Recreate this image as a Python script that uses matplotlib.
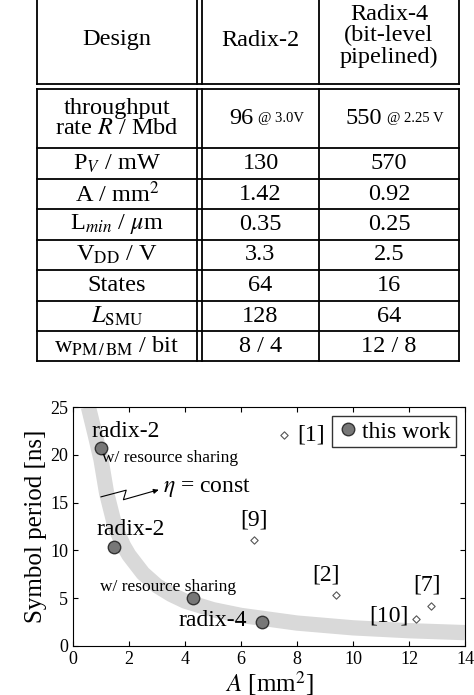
import matplotlib.pyplot as plt
from matplotlib.lines import Line2D

plt.rcParams['font.family'] = ['Liberation Serif', 'DejaVu Serif']
plt.rcParams['mathtext.fontset'] = 'stix'

# table data
headers = ["Design", "Radix-2", "Radix-4\n(bit-level\npipelined)"]
row_labels = ["throughput\nrate $R$ / Mbd", "P$_V$ / mW", "A / mm$^2$", "L$_{min}$ / $\\mu$m",
              "V$_{\\mathrm{DD}}$ / V", "States", "$L_{\\mathrm{SMU}}$", "w$_{\\mathrm{PM\\,/\\,BM}}$ / bit"]
radix2 = ["96", "130", "1.42", "0.35", "3.3", "64", "128", "8 / 4"]
radix4 = ["550", "570", "0.92", "0.25", "2.5", "16", "64", "12 / 8"]
volt2, volt4 = "@ 3.0V", "@ 2.25 V"

# plot data
work_x = [1.0, 1.45, 4.3, 6.75]
work_y = [20.7, 10.4, 5.0, 2.5]
work_lab = ["radix-2", "radix-2", "", "radix-4"]
ref_x = [7.55, 6.45, 9.4, 12.25, 12.8]
ref_y = [22.1, 11.1, 5.3, 2.8, 4.2]
ref_lab = ["[1]", "[9]", "[2]", "[10]", "[7]"]
band_x = [0.55, 0.8, 1.0, 1.2, 1.5, 1.8, 2.0, 2.5, 3.0, 3.5, 4.0, 5.0, 6.0, 8.0, 10.0, 12.0, 14.0]
band_y = [25, 22, 19.5, 16, 12.5, 10.5, 9.5, 7.6, 6.3, 5.4, 4.7, 3.8, 3.2, 2.4, 1.9, 1.6, 1.4]

W, H = 474, 695
fig = plt.figure(figsize=(W / 100, H / 100), dpi=100)
tab = fig.add_axes([0, 0, 1, 1])
tab.set_xlim(0, W)
tab.set_ylim(H, 0)
tab.axis('off')

xl, xs1, xs2, xm, xr = 37, 197, 202, 319, 459
kw = dict(color='black', lw=1.3)
# header block
for x in [xl, xs1, xs2, xm, xr]:
    tab.plot([x, x], [-2, 84], **kw)
tab.plot([xl, xr], [84, 84], **kw)
rows = [89, 148, 179, 209, 240, 270, 301, 331, 361]
for x in [xl, xs1, xs2, xm, xr]:
    tab.plot([x, x], [rows[0], rows[-1]], **kw)
for y in rows:
    tab.plot([xl, xr], [y, y], **kw)

fs = 17.5
c0, c1, c2 = (xl + xs1) / 2, (xs2 + xm) / 2, (xm + xr) / 2
tab.text(c0, 40, headers[0], ha='center', va='center', fontsize=fs)
tab.text(c1, 40, headers[1], ha='center', va='center', fontsize=fs)
tab.text(c2, 36, headers[2], ha='center', va='center', fontsize=fs, linespacing=1.05)
for i in range(len(row_labels)):
    yc = (rows[i] + rows[i + 1]) / 2
    tab.text(c0, yc, row_labels[i], ha='center', va='center', fontsize=fs, linespacing=0.95)
    if i == 0:
        tab.text(c1 - 7, yc, radix2[i], ha='right', va='center', fontsize=fs)
        tab.text(c1 - 2, yc, volt2, ha='left', va='center', fontsize=10.5)
        tab.text(c2 - 7, yc, radix4[i], ha='right', va='center', fontsize=fs)
        tab.text(c2 - 2, yc, volt4, ha='left', va='center', fontsize=10.5)
    else:
        tab.text(c1, yc, radix2[i], ha='center', va='center', fontsize=fs)
        tab.text(c2, yc, radix4[i], ha='center', va='center', fontsize=fs)

# scatter plot
ax = fig.add_axes([73 / W, 1 - 646 / H, (465 - 73) / W, (646 - 407) / H])
ax.plot(band_x, band_y, color='#d9d9d9', lw=11, solid_capstyle='butt', solid_joinstyle='round', zorder=1)
ax.scatter(work_x, work_y, s=80, color='#777777', edgecolor='#333333', zorder=3)
ax.scatter(ref_x, ref_y, s=14, marker='D', facecolor='white', edgecolor='#555555', lw=0.8, zorder=3)

ax.text(0.65, 21.9, work_lab[0], fontsize=17)
ax.text(1.05, 19.2, "w/ resource sharing", fontsize=12.5)
ax.text(0.85, 11.6, work_lab[1], fontsize=17)
ax.text(0.95, 5.8, "w/ resource sharing", fontsize=12.5)
ax.text(6.2, 2.7, work_lab[3], fontsize=17, ha='right', va='center')
ax.text(3.2, 16.6, r"$\eta$ = const", fontsize=17, va='center')
ax.plot([1.0, 1.9, 1.8, 3.0], [15.6, 16.3, 15.3, 16.3], color='black', lw=0.8)
ax.annotate("", xy=(3.15, 16.4), xytext=(2.9, 16.2),
            arrowprops=dict(arrowstyle='-|>', color='black', lw=0.8, mutation_scale=7))
ax.text(8.0, 22.1, ref_lab[0], fontsize=17, va='center')
ax.text(6.45, 12.1, ref_lab[1], fontsize=17, ha='center', va='bottom')
ax.text(9.05, 6.3, ref_lab[2], fontsize=17, ha='center', va='bottom')
ax.text(12.0, 3.1, ref_lab[3], fontsize=17, ha='right', va='center')
ax.text(12.65, 5.3, ref_lab[4], fontsize=17, ha='center', va='bottom')

ax.set_xlim(0, 14)
ax.set_ylim(0, 25)
ax.set_xticks(range(0, 15, 2))
ax.set_yticks(range(0, 26, 5))
ax.tick_params(direction='in', top=True, right=True, labelsize=13)
ax.set_xlabel("$A$ [mm$^2$]", fontsize=18, labelpad=1)
ax.set_ylabel("Symbol period [ns]", fontsize=18, labelpad=2)
h = Line2D([], [], marker='o', ls='', markersize=9, markerfacecolor='#777777', markeredgecolor='#333333')
ax.legend([h], ["this work"], loc='upper right', fontsize=17, fancybox=False, edgecolor='black',
          handletextpad=0.1, borderpad=0.2, handlelength=1.0, borderaxespad=0.4)

fig.savefig("out.png", dpi=100)
